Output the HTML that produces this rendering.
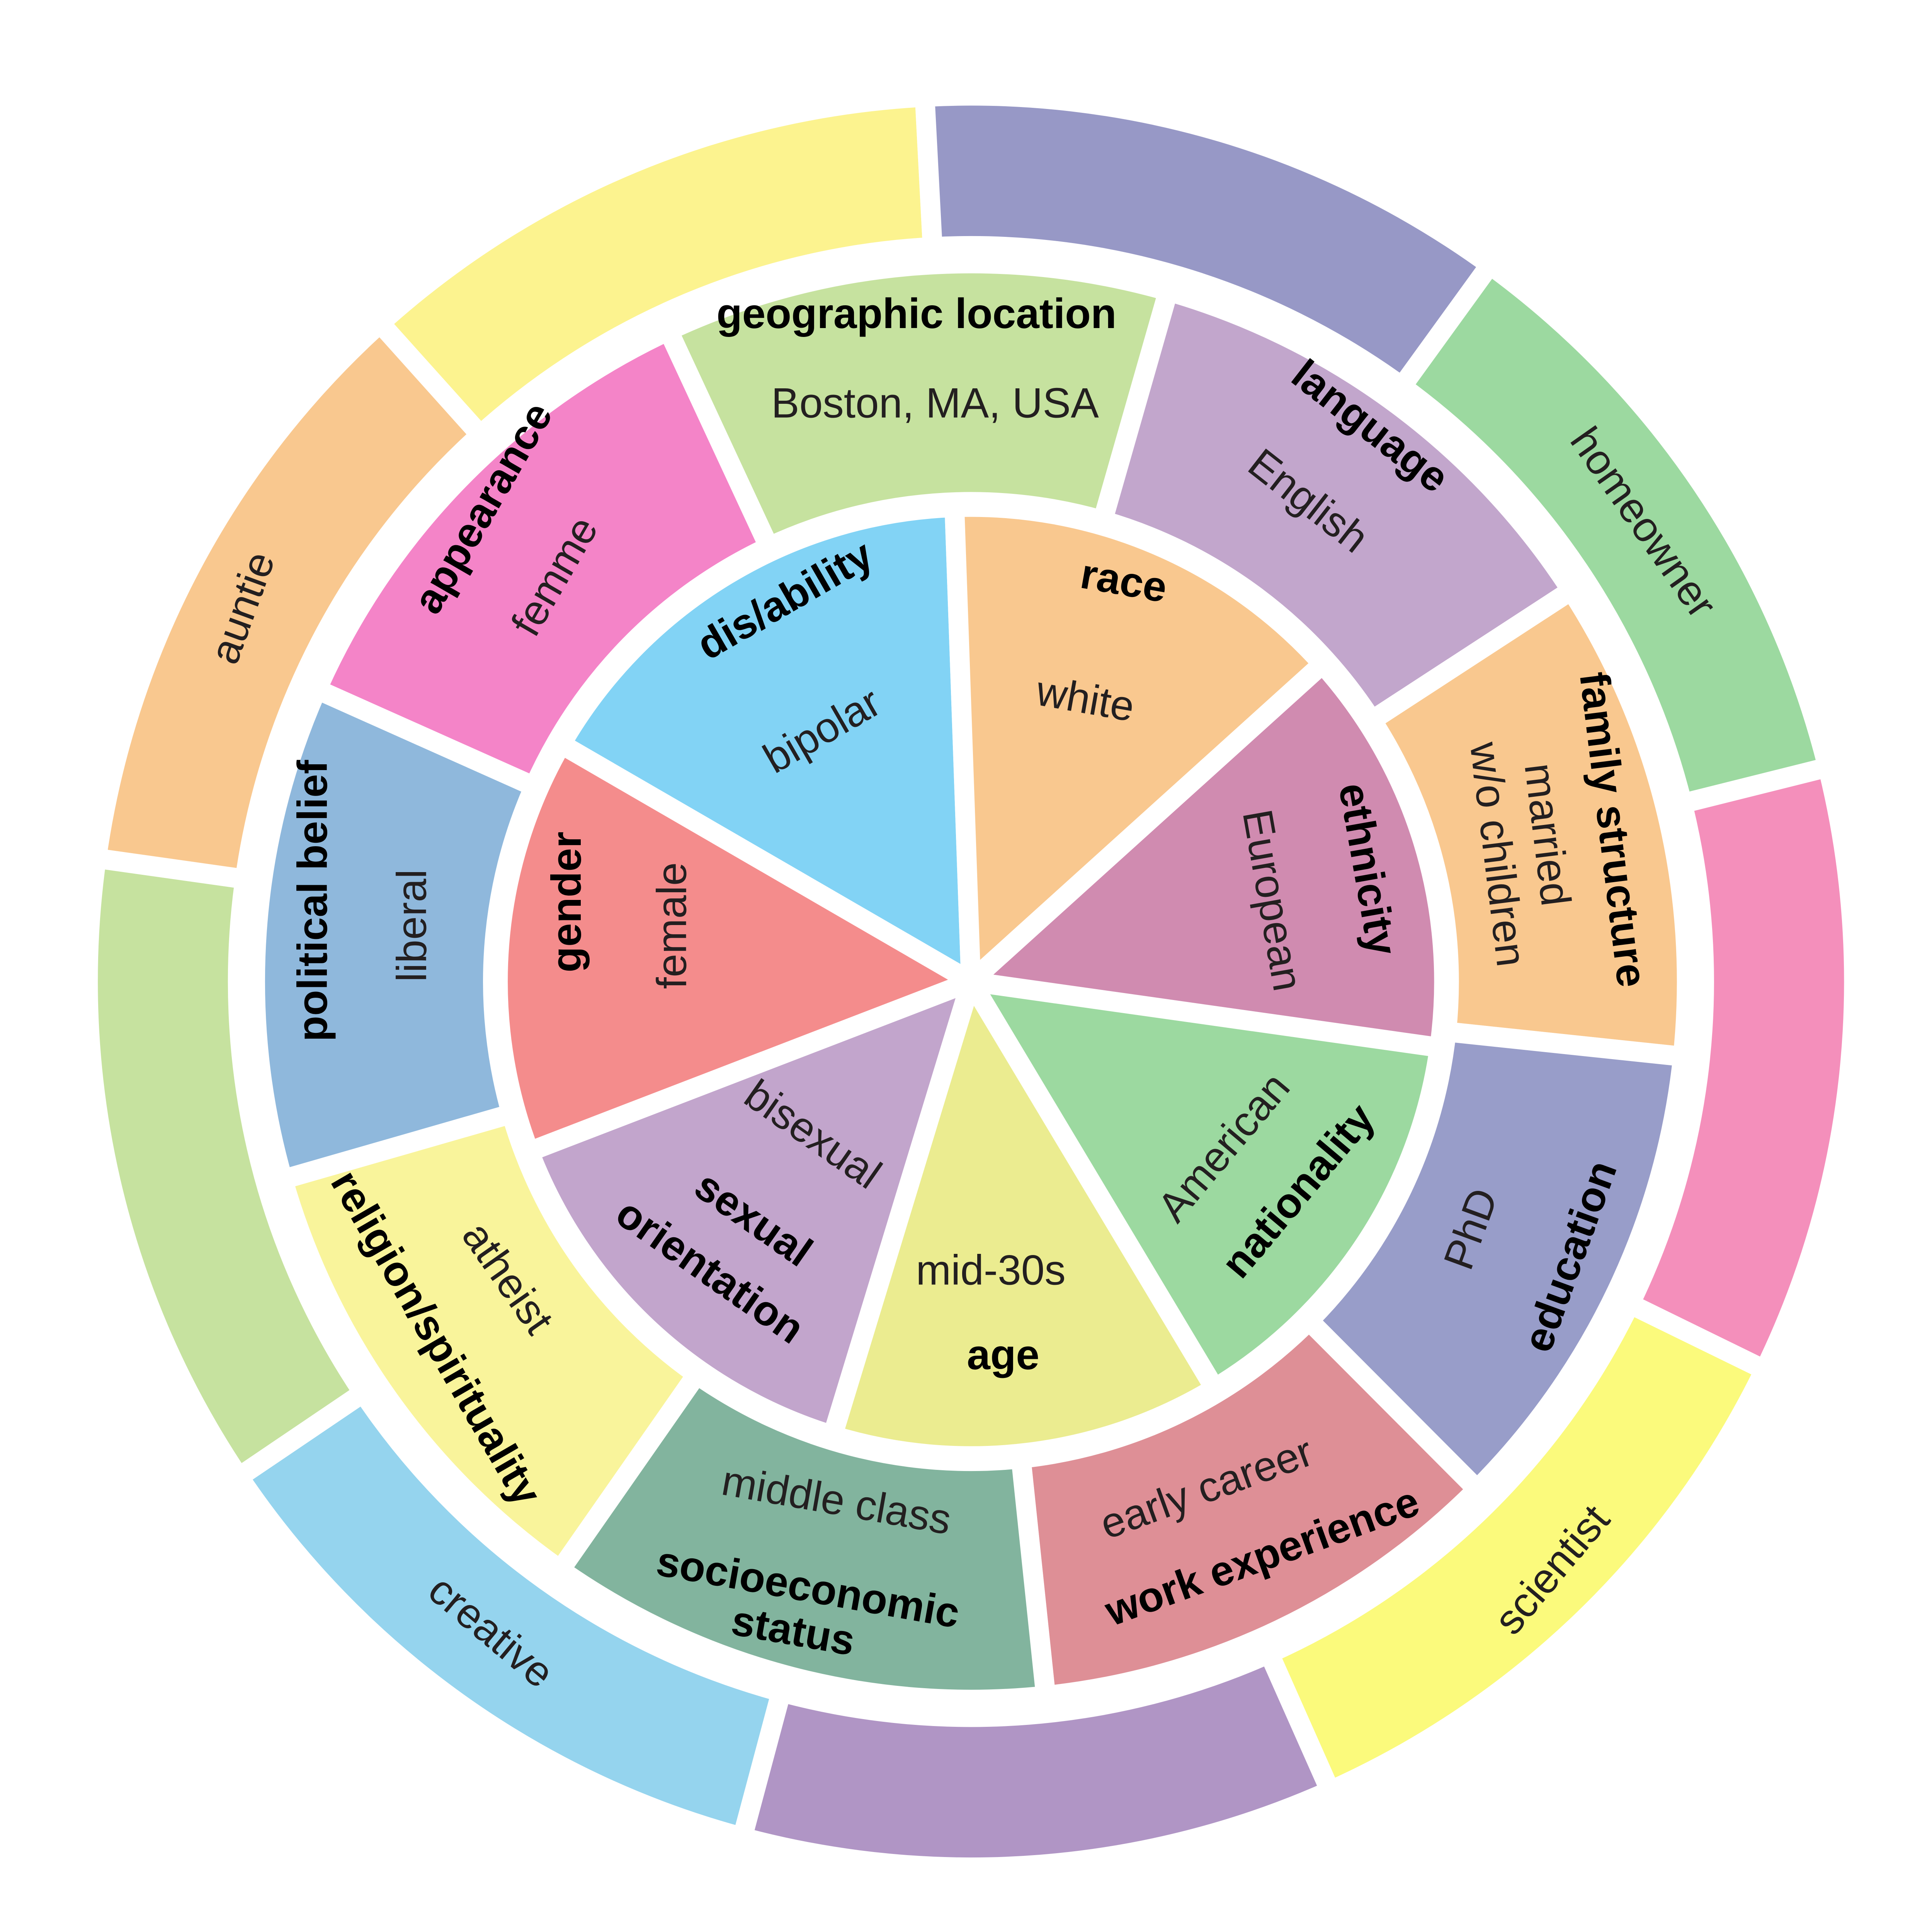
<!DOCTYPE html>
<html><head><meta charset="utf-8">
<style>
html,body{margin:0;padding:0;background:#fff;width:100vw;height:100vh;overflow:hidden;}
svg{display:block;position:fixed;left:0;top:0;width:100vw;height:100vh;}
text{font-family:"Liberation Sans",sans-serif;font-size:34px;fill:#231f20;text-anchor:middle;dominant-baseline:middle;}
.b{font-weight:bold;fill:#000;}
</style></head><body>
<svg id="s" viewBox="0 0 1560 1555" preserveAspectRatio="none" xmlns="http://www.w3.org/2000/svg">
<g id="shapes"></g>
<g>
<text class="b" transform="translate(635,485) rotate(-30)">dis/ability</text>
<text transform="translate(665,590) rotate(-30)">bipolar</text>
<text class="b" transform="translate(907,470) rotate(10)">race</text>
<text transform="translate(876,565) rotate(10)">white</text>
<text class="b" transform="translate(1102,700) rotate(80)">ethnicity</text>
<text transform="translate(1025,725) rotate(80)">European</text>
<text transform="translate(990,925) rotate(-50)">American</text>
<text class="b" transform="translate(1050,960) rotate(-50)">nationality</text>
<text transform="translate(800,1025)">mid-30s</text>
<text class="b" transform="translate(810,1093)">age</text>
<text transform="translate(655,915) rotate(35)">bisexual</text>
<text class="b" transform="translate(607,983) rotate(35)">sexual</text>
<text class="b" transform="translate(572,1025) rotate(35)">orientation</text>
<text class="b" transform="translate(460,726) rotate(-90)">gender</text>
<text transform="translate(545,745) rotate(-90)">female</text>

<text class="b" transform="translate(740,255)">geographic location</text>
<text transform="translate(755,327)">Boston, MA, USA</text>
<text class="b" transform="translate(1105,345) rotate(38)">language</text>
<text transform="translate(1055,405) rotate(38)">English</text>
<text class="b" transform="translate(1300,668) rotate(83)">family structure</text>
<text transform="translate(1247,672) rotate(83)">married</text>
<text transform="translate(1207,688) rotate(83)">w/o children</text>
<text transform="translate(1190,990) rotate(-70)">PhD</text>
<text class="b" transform="translate(1270,1012) rotate(-70)">education</text>
<text transform="translate(975,1200) rotate(-20)">early career</text>
<text class="b" transform="translate(1020,1255) rotate(-20)">work experience</text>
<text transform="translate(675,1210) rotate(10)">middle class</text>
<text class="b" transform="translate(652,1280) rotate(10)">socioeconomic</text>
<text class="b" transform="translate(640,1315) rotate(10)">status</text>
<text transform="translate(408,1030) rotate(55)">atheist</text>
<text class="b" transform="translate(350,1078) rotate(60)">religion/spirituality</text>
<text class="b" transform="translate(255,725) rotate(-90)">political belief</text>
<text transform="translate(335,745) rotate(-90)">liberal</text>
<text class="b" transform="translate(392,410) rotate(-60)">appearance</text>
<text transform="translate(450,465) rotate(-60)">femme</text>

<text transform="translate(1325,422) rotate(55)">homeowner</text>
<text transform="translate(1255,1265) rotate(-50)">scientist</text>
<text transform="translate(395,1315) rotate(40)">creative</text>
<text transform="translate(198,490) rotate(-70)">auntie</text>
</g>
</svg>
<script>
var cx=784,cy=790;
function pt(r,a){a=a*Math.PI/180;return [cx+r*Math.sin(a),cy-r*Math.cos(a)];}
function seg(r0,r1,a0,a1,c){
 if(a1<a0)a1+=360;
 var large=(a1-a0)>180?1:0;
 var p1=pt(r1,a0),p2=pt(r1,a1),d;
 if(r0<=0){d="M"+cx+","+cy+"L"+p1+"A"+r1+","+r1+" 0 "+large+" 1 "+p2+"Z";}
 else{var p3=pt(r0,a1),p4=pt(r0,a0);
 d="M"+p4+"L"+p1+"A"+r1+","+r1+" 0 "+large+" 1 "+p2+"L"+p3+"A"+r0+","+r0+" 0 "+large+" 0 "+p4+"Z";}
 return '<path d="'+d+'" fill="'+c+'" stroke="#fff" stroke-width="16" stroke-linejoin="miter"/>';
}
var h="";
var inner=[[-60,-2,"#82d3f5"],[-2,48,"#f9c88f"],[48,98,"#d08bb0"],[98,149,"#9cd9a0"],[149,197,"#ebec90"],[197,249,"#c2a5cc"],[249,300,"#f48c8c"]];
inner.forEach(function(s){h+=seg(0,382,s[0],s[1],s[2]);});
var mid=[[-25,16,"#c6e29f"],[16,57,"#c2a6cc"],[57,96,"#f9c88f"],[96,135,"#989dc9"],[135,174,"#de8f96"],[174,215,"#82b49e"],[215,254,"#f9f49b"],[254,294,"#8fb8dc"],[294,335,"#f484c8"]];
mid.forEach(function(s){h+=seg(386,578,s[0],s[1],s[2]);});
var out=[[-42,-3,"#fcf38f"],[-3,36,"#9798c6"],[36,76,"#9cd9a0"],[76,116,"#f48fbb"],[116,156,"#fbfa7c"],[156,195,"#b095c5"],[195,236,"#95d4ee"],[236,278,"#c6e29f"],[278,318,"#f9c88f"]];
out.forEach(function(s){h+=seg(592,713,s[0],s[1],s[2]);});
document.getElementById("shapes").innerHTML=h;
</script>
</body></html>
